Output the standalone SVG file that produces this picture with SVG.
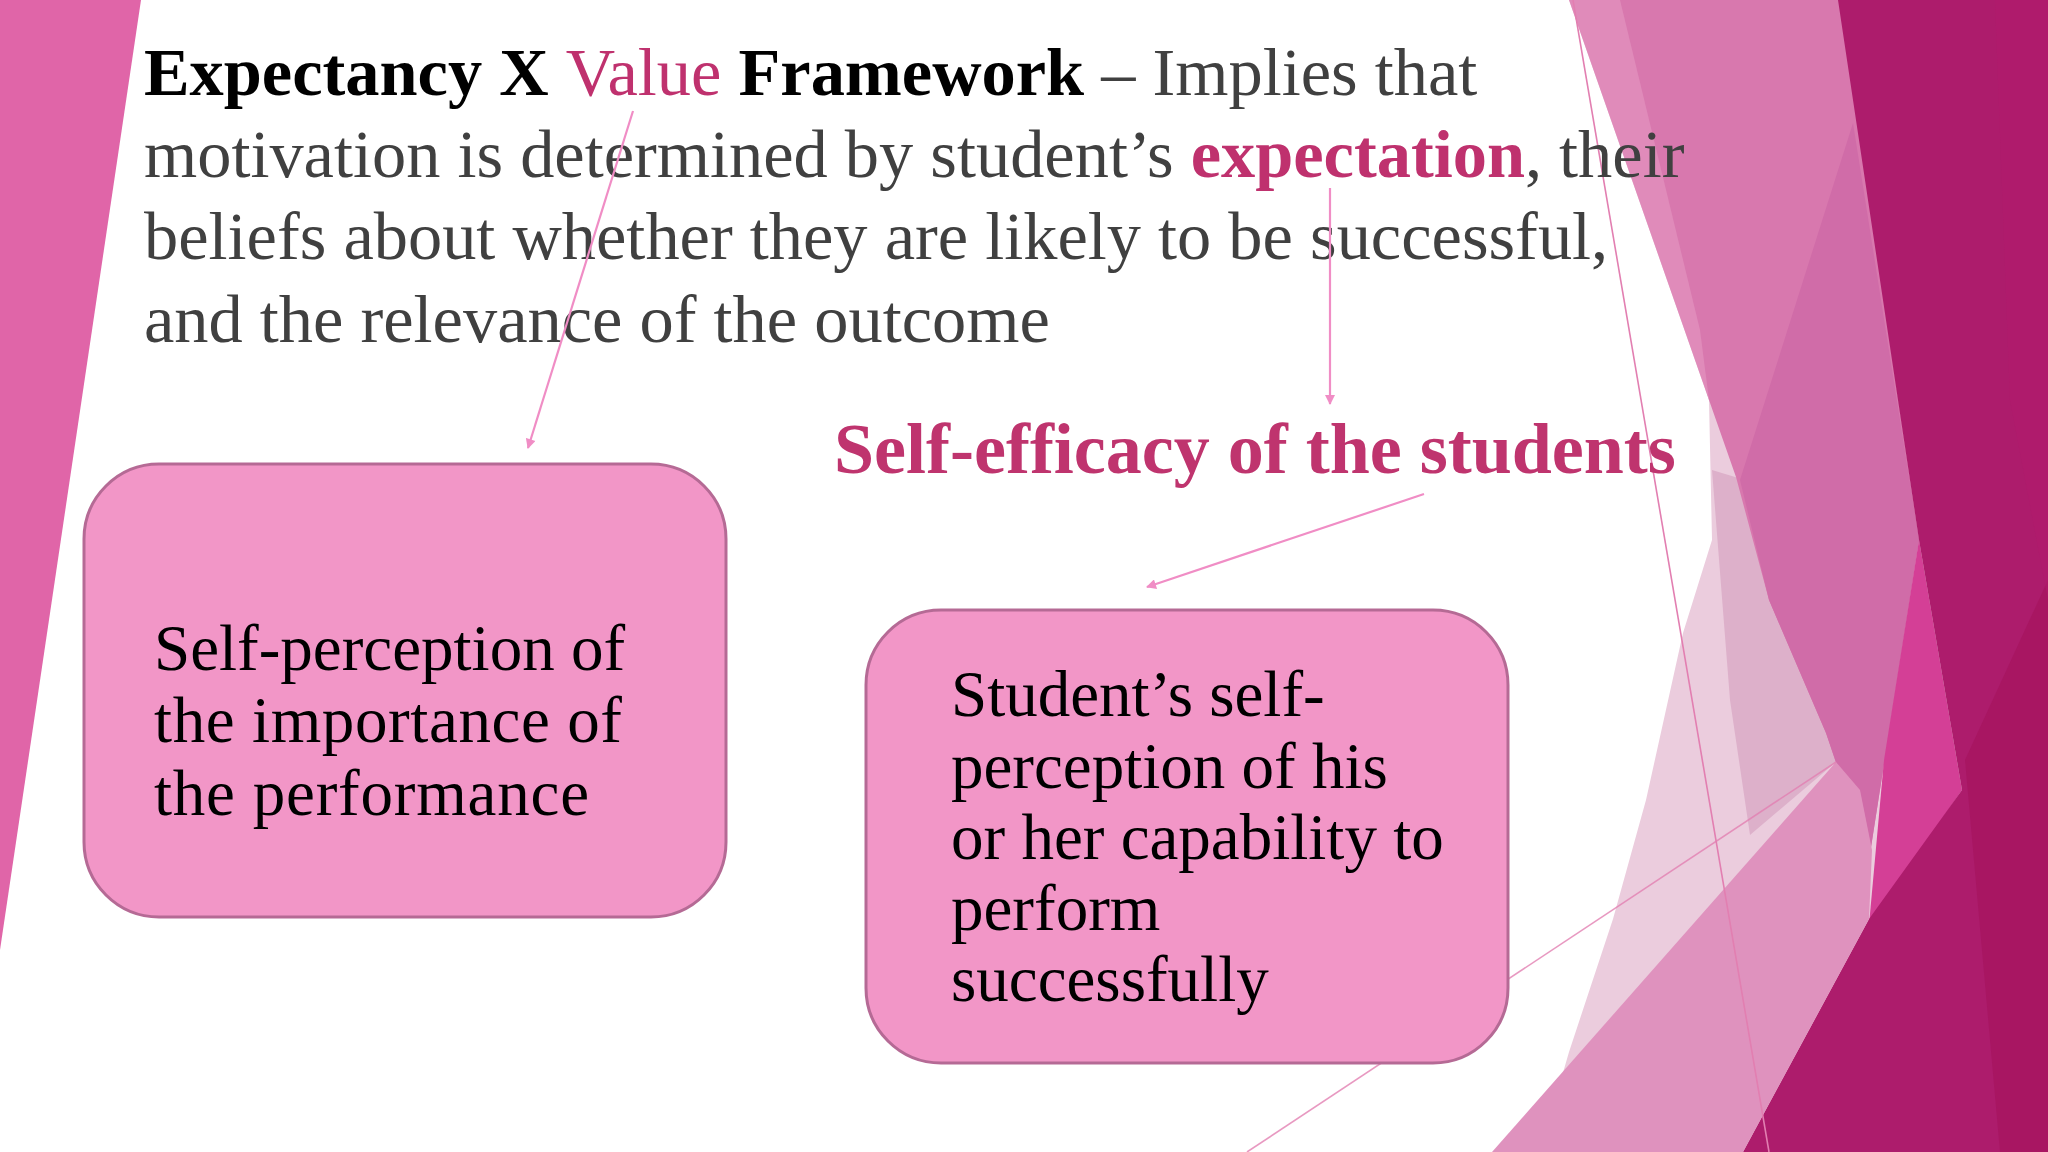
<svg xmlns="http://www.w3.org/2000/svg" width="2048" height="1152" viewBox="0 0 2048 1152">
<defs>
<style>
.t{font-family:"Liberation Serif","Times New Roman",serif;font-size:68.4px;fill:#404040}
.b{font-weight:bold;fill:#000}
.pk{fill:#BF316E}
.box{fill:#F296C7;stroke:#B56A95;stroke-width:3}
.bt{font-family:"Liberation Serif","Times New Roman",serif;font-size:65px;fill:#000}
.conn{stroke:#F08DC5;stroke-width:2.2;fill:none}
.deco{stroke:#E27FB1;stroke-width:1.6;fill:none}
</style>
<marker id="ah" viewBox="0 0 10 10" refX="9" refY="5" markerWidth="11" markerHeight="10" orient="auto" markerUnits="userSpaceOnUse">
<path d="M0,0 L10,5 L0,10 z" fill="#F08DC5"/>
</marker>
</defs>
<rect width="2048" height="1152" fill="#FFFFFF"/>
<g id="background">
<polygon points="0,0 141,0 0,950" fill="#E065A8"/>
<polygon points="1569,0 2048,0 2048,1152 1540,1152 1569,1052 1613,919 1646,800 1683,633 1712,540 1709,400" fill="#EBCCDD"/>
<polygon points="1712,470 1745,480 1836,762 1750,835 1730,700" fill="#DDB0CA"/>
<polygon points="1605,0 1840,0 1919,540 1869,860 1826,733 1769,600 1736,477 1709,400" fill="#D878AE"/>
<polygon points="1569,0 1620,0 1700,330 1709,400" fill="#E08BBA"/>
<polygon points="1853,123 1919,540 1869,860 1826,733 1769,600 1740,480" fill="#D06CA8"/>
<polygon points="1919,540 1962,790 1869,925 1884,760" fill="#D43F96"/>
<polygon points="1838,0 2048,0 2048,1152 1743,1152 1869,919 1962,790 1919,540" fill="#AD1C6C"/>
<polygon points="2048,580 2048,1152 2000,1152 1965,760" fill="#A5145E" opacity="0.7"/>
<polygon points="1995,0 2048,0 2048,600 2010,400" fill="#B01A6D" opacity="0.6"/>
<polygon points="1492,1152 1836,762 1860,790 1872,850 1869,919 1743,1152" fill="#DF92BE"/>
<line class="deco" x1="1573" y1="0" x2="1769" y2="1152"/>
<line class="deco" x1="1247" y1="1152" x2="1836" y2="762" stroke-opacity="0.8"/>
</g>
<g id="title">
<text class="t" x="144" y="95"><tspan class="b">Expectancy X </tspan><tspan class="pk">Value</tspan><tspan class="b"> Framework</tspan> – Implies that</text>
<text class="t" x="144" y="177">motivation is determined by student’s <tspan class="pk" font-weight="bold">expectation</tspan>, their</text>
<text class="t" x="144" y="259">beliefs about whether they are likely to be successful,</text>
<text class="t" x="144" y="342">and the relevance of the outcome</text>
</g>
<g id="self-efficacy">
<text x="834" y="473" font-family="Liberation Serif, Times New Roman, serif" font-size="72" font-weight="bold" fill="#BF346E">Self-efficacy of the students</text>
</g>
<g id="box-value">
<rect class="box" x="84" y="464" width="642" height="453" rx="75" ry="75"/>
<text class="bt" x="154" y="670">Self-perception of</text>
<text class="bt" x="154" y="742" textLength="468" lengthAdjust="spacing">the importance of</text>
<text class="bt" x="154" y="815" textLength="435" lengthAdjust="spacing">the performance</text>
</g>
<g id="box-expectancy">
<rect class="box" x="866" y="610" width="642" height="453" rx="75" ry="75"/>
<text class="bt" x="951" y="716">Student’s self-</text>
<text class="bt" x="951" y="788">perception of his</text>
<text class="bt" x="951" y="859">or her capability to</text>
<text class="bt" x="951" y="930">perform</text>
<text class="bt" x="951" y="1001">successfully</text>
</g>
<g id="connectors">
<line class="conn" x1="633" y1="111" x2="528" y2="448" marker-end="url(#ah)"/>
<line class="conn" x1="1330" y1="188" x2="1330" y2="404" marker-end="url(#ah)"/>
<line class="conn" x1="1424" y1="494" x2="1147" y2="587" marker-end="url(#ah)"/>
</g>
</svg>
